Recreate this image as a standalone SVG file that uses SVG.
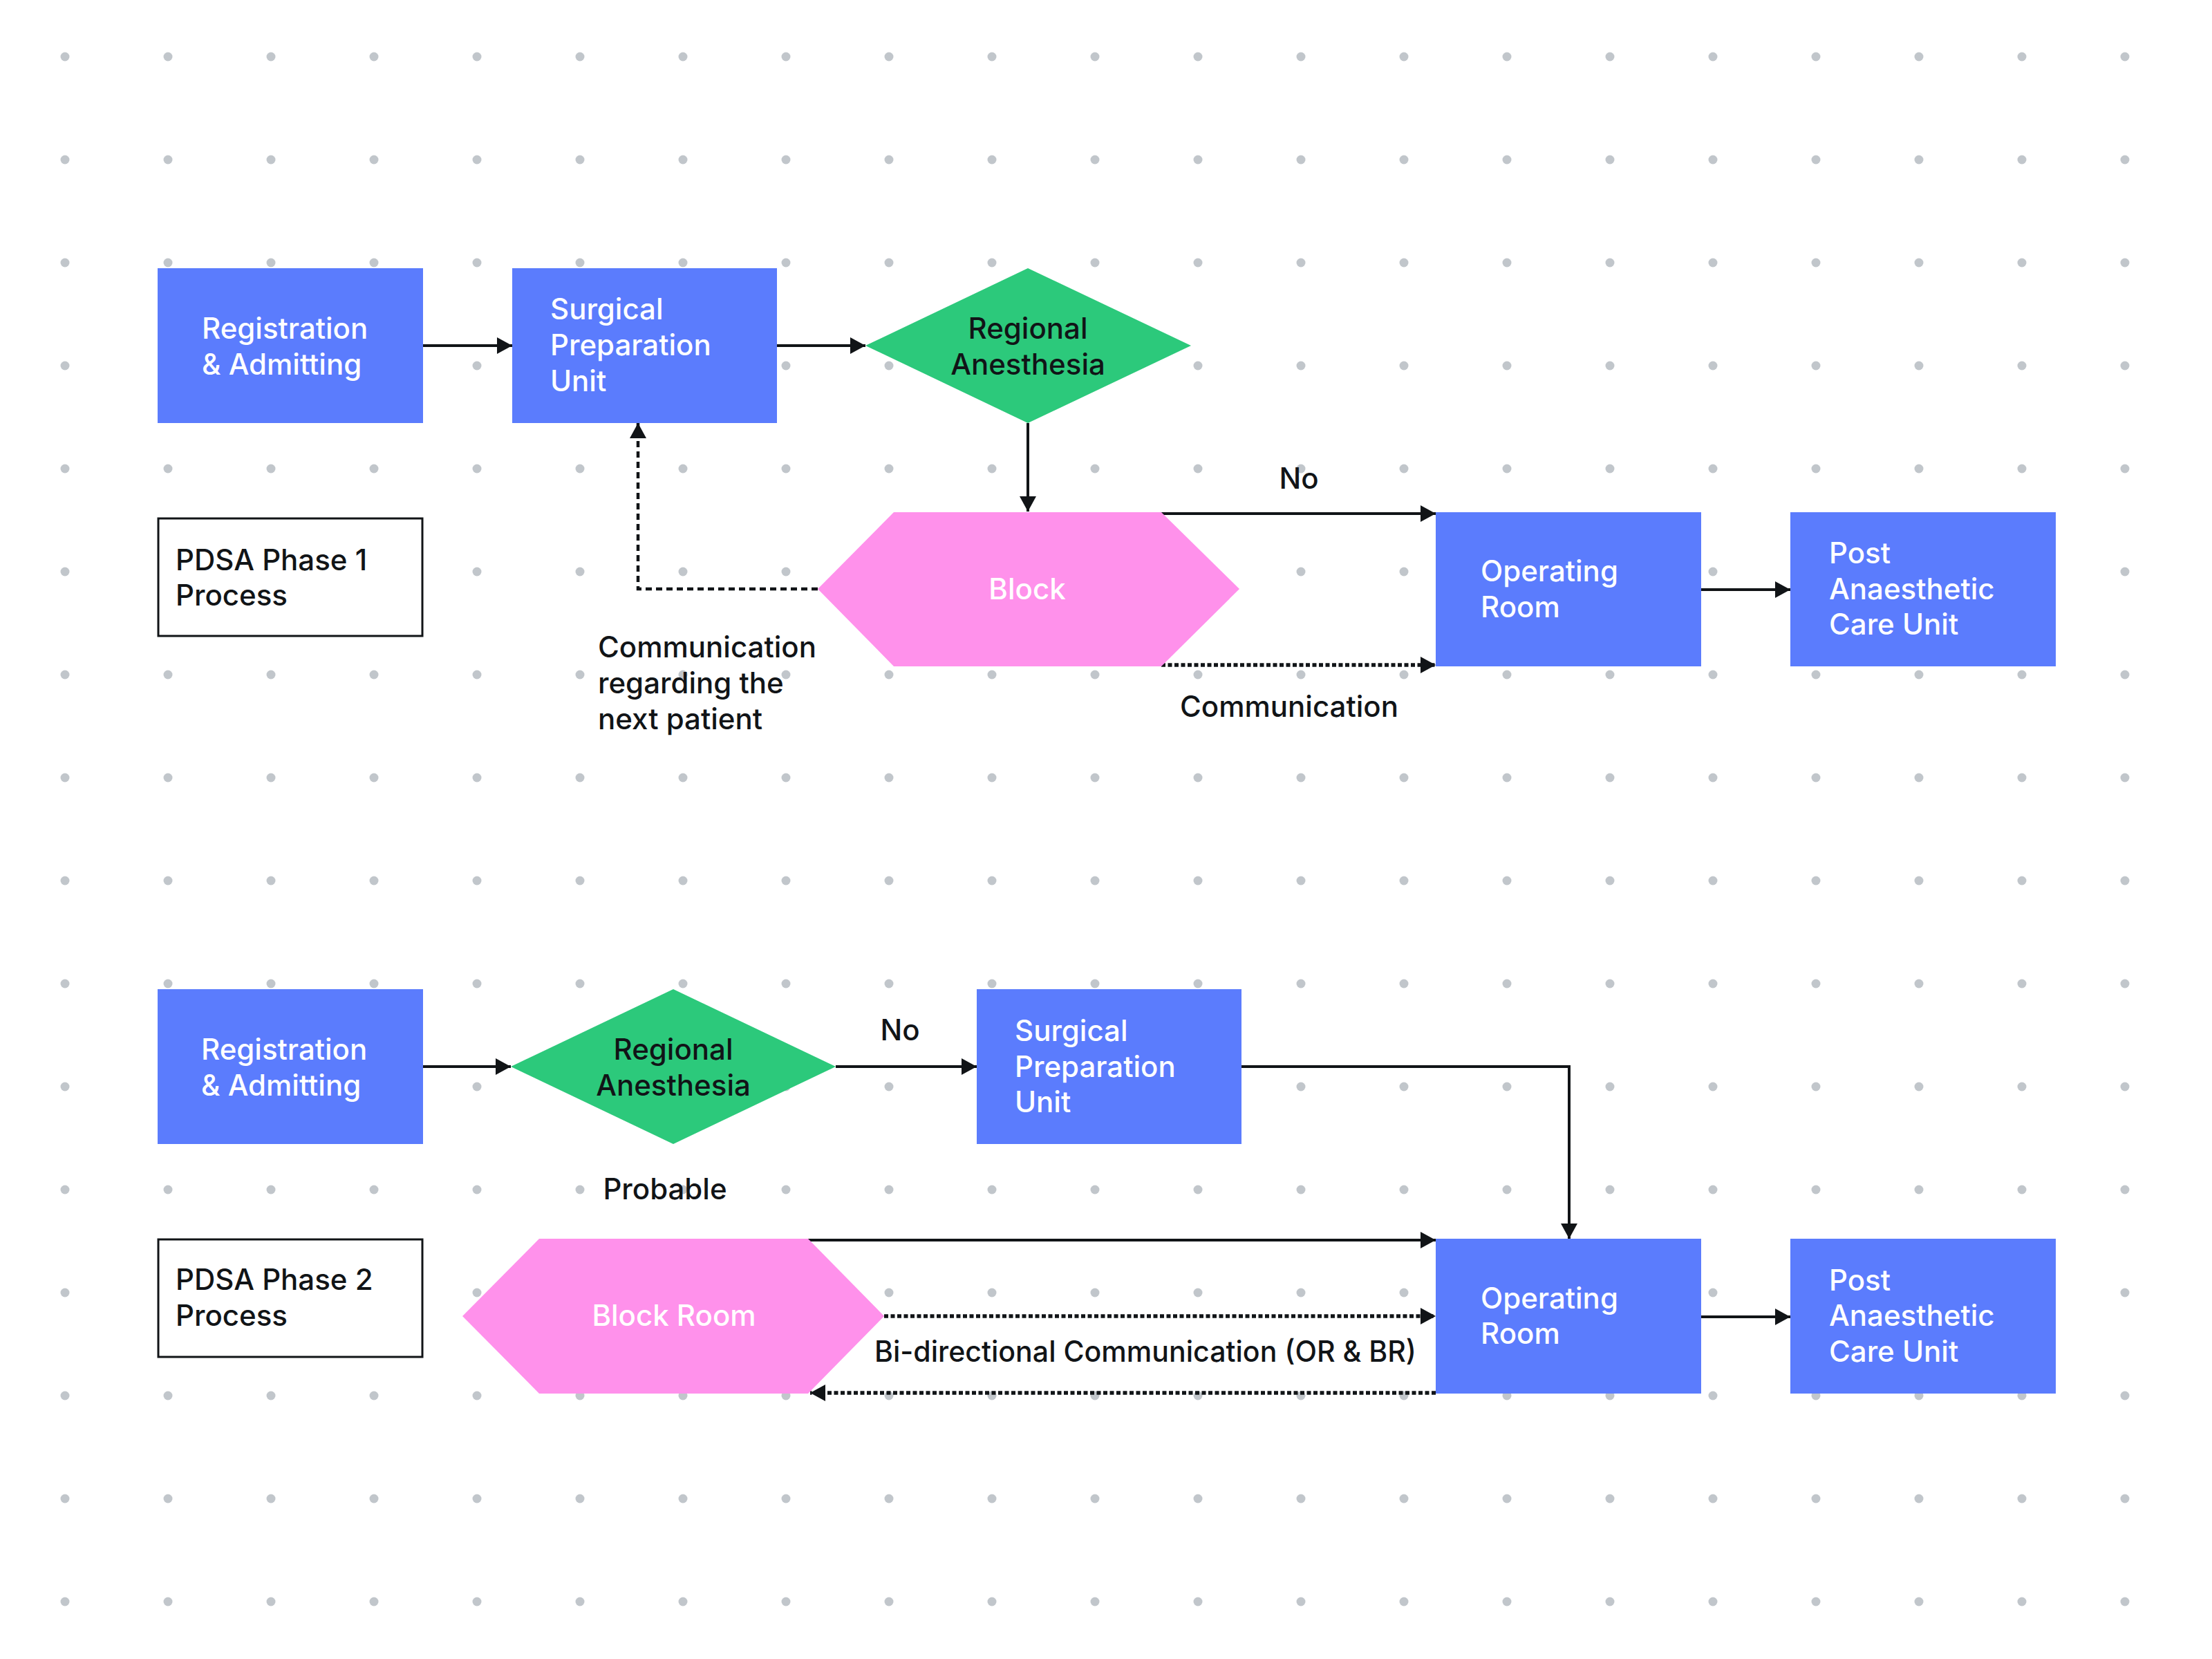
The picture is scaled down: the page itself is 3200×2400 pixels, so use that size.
<svg xmlns="http://www.w3.org/2000/svg" width="3200" height="2400" viewBox="0 0 3200 2400">
<defs>
<pattern id="dots" patternUnits="userSpaceOnUse" x="0" y="0" width="149" height="149">
<circle cx="94" cy="82" r="6.5" fill="#c1c6cb"/>
</pattern>
<marker id="ah" markerUnits="userSpaceOnUse" markerWidth="22" markerHeight="24" refX="22" refY="12" orient="auto">
<path d="M0,0 L22,12 L0,24 Z" fill="#111417"/>
</marker>
</defs>
<style>
text{font-family:Inter,"Liberation Sans",Arial,sans-serif;font-size:42px;font-weight:500}
.box{fill:#5b7cfd}
.dia{fill:#2cc97b}
.hex{fill:#ff91eb}
.note{fill:#ffffff;stroke:#111417;stroke-width:3}
.w{fill:#ffffff}
.k{fill:#111417}
.c{text-anchor:middle}
.ln{fill:none;stroke:#111417;stroke-width:4;marker-end:url(#ah)}
.dash{stroke-width:4.5;stroke-dasharray:9 6}
.dot{stroke-width:5.5;stroke-dasharray:6 3.5}
</style>
<rect width="3200" height="2400" fill="#ffffff"/>
<rect width="3200" height="2400" fill="url(#dots)"/>

<g id="connectors">
<path class="ln" d="M612,500 H741"/>
<path class="ln" d="M1124,500 H1252"/>
<path class="ln" d="M1487,612 V740"/>
<path class="ln" d="M1680,743 H2077"/>
<path class="ln dot" d="M1680,962 H2077"/>
<path class="ln dash" d="M1183,852 H923 V612"/>
<path class="ln" d="M2461,853 H2590"/>
<path class="ln" d="M612,1543 H739"/>
<path class="ln" d="M1209,1543 H1413"/>
<path class="ln" d="M1796,1543 H2270 V1792"/>
<path class="ln" d="M1169,1794 H2077"/>
<path class="ln dot" d="M1279,1904 H2077"/>
<path class="ln dot" d="M2077,2015 H1172"/>
<path class="ln" d="M2461,1905 H2590"/>
<text class="k c" x="1879" y="707">No</text>
<text class="k" x="1707" y="1037">Communication</text>
<text class="k" x="865" y="951">Communication</text>
<text class="k" x="865" y="1003">regarding the</text>
<text class="k" x="865" y="1055">next patient</text>
<text class="k c" x="1302" y="1505">No</text>
<text class="k c" x="962" y="1735">Probable</text>
<text class="k" x="1265" y="1970" textLength="784" lengthAdjust="spacingAndGlyphs">Bi-directional Communication (OR &amp; BR)</text>
</g>

<g id="reg1">
<rect class="box" x="228" y="388" width="384" height="224"/>
<text class="w" x="292" y="490">Registration</text>
<text class="w" x="292" y="542">&amp; Admitting</text>
</g>
<g id="surg1">
<rect class="box" x="741" y="388" width="383" height="224"/>
<text class="w" x="796" y="462">Surgical</text>
<text class="w" x="796" y="514">Preparation</text>
<text class="w" x="796" y="566">Unit</text>
</g>
<g id="ra1">
<polygon class="dia" points="1252,500 1487,388 1723,500 1487,612"/>
<text class="k c" x="1487" y="490">Regional</text>
<text class="k c" x="1487" y="542">Anesthesia</text>
</g>
<g id="block1">
<polygon class="hex" points="1183,852 1293,741 1680,741 1793,852 1680,964 1293,964"/>
<text class="w c" x="1486" y="867">Block</text>
</g>
<g id="or1">
<rect class="box" x="2077" y="741" width="384" height="223"/>
<text class="w" x="2142" y="841">Operating</text>
<text class="w" x="2142" y="893">Room</text>
</g>
<g id="pacu1">
<rect class="box" x="2590" y="741" width="384" height="223"/>
<text class="w" x="2646" y="815">Post</text>
<text class="w" x="2646" y="867">Anaesthetic</text>
<text class="w" x="2646" y="918">Care Unit</text>
</g>
<g id="pdsa1">
<rect class="note" x="229" y="750" width="382" height="170"/>
<text class="k" x="254" y="825">PDSA Phase 1</text>
<text class="k" x="254" y="876">Process</text>
</g>

<g id="reg2">
<rect class="box" x="228" y="1431" width="384" height="224"/>
<text class="w" x="291" y="1533">Registration</text>
<text class="w" x="291" y="1585">&amp; Admitting</text>
</g>
<g id="ra2">
<polygon class="dia" points="739,1543 974,1431 1209,1543 974,1655"/>
<text class="k c" x="974" y="1533">Regional</text>
<text class="k c" x="974" y="1585">Anesthesia</text>
</g>
<g id="surg2">
<rect class="box" x="1413" y="1431" width="383" height="224"/>
<text class="w" x="1468" y="1506">Surgical</text>
<text class="w" x="1468" y="1558">Preparation</text>
<text class="w" x="1468" y="1609">Unit</text>
</g>
<g id="blockroom2">
<polygon class="hex" points="669,1904 780,1792 1169,1792 1279,1904 1169,2016 780,2016"/>
<text class="w c" x="975" y="1918">Block Room</text>
</g>
<g id="or2">
<rect class="box" x="2077" y="1792" width="384" height="224"/>
<text class="w" x="2142" y="1893">Operating</text>
<text class="w" x="2142" y="1944">Room</text>
</g>
<g id="pacu2">
<rect class="box" x="2590" y="1792" width="384" height="224"/>
<text class="w" x="2646" y="1867">Post</text>
<text class="w" x="2646" y="1918">Anaesthetic</text>
<text class="w" x="2646" y="1970">Care Unit</text>
</g>
<g id="pdsa2">
<rect class="note" x="229" y="1793" width="382" height="170"/>
<text class="k" x="254" y="1866">PDSA Phase 2</text>
<text class="k" x="254" y="1918">Process</text>
</g>
</svg>
